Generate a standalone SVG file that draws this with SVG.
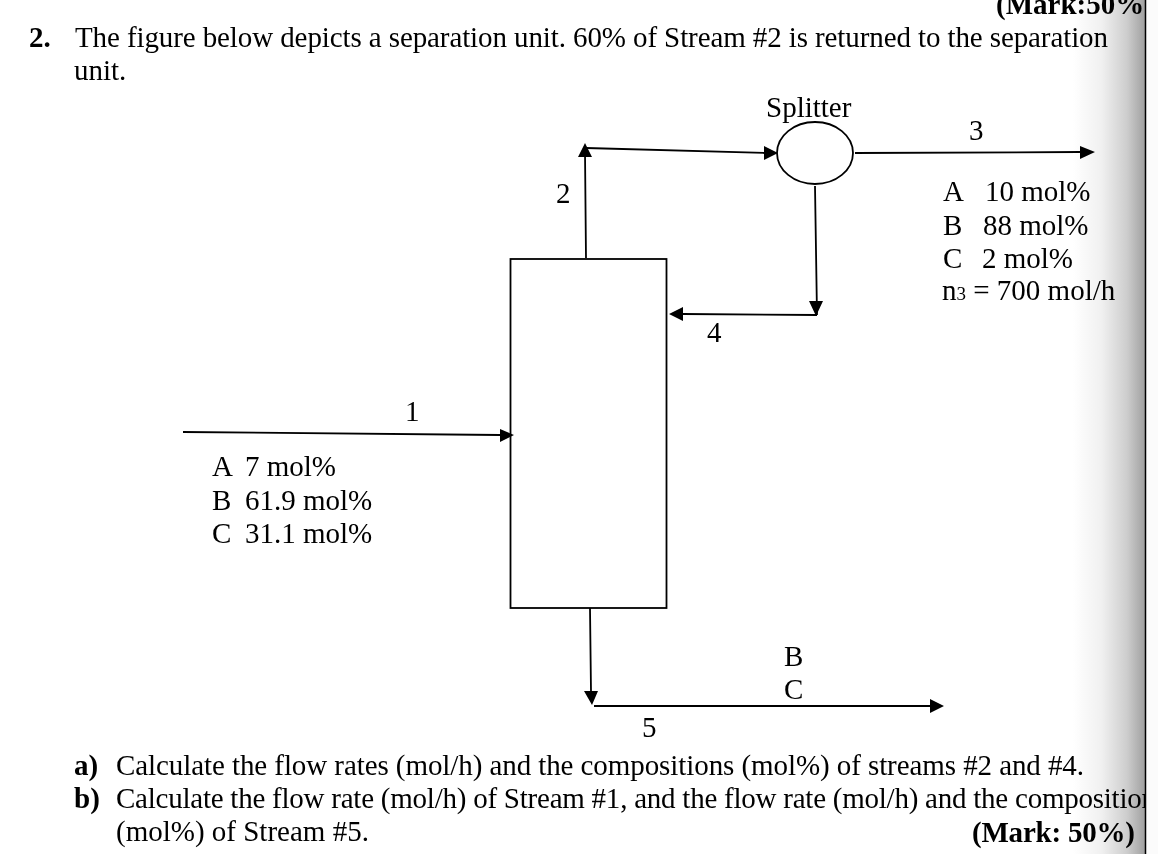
<svg xmlns="http://www.w3.org/2000/svg" width="1158" height="854" viewBox="0 0 1158 854">
<style>
text{font-family:"Liberation Serif","Times New Roman",serif;font-size:29px;fill:#000}
.b{font-weight:bold}
.l{fill:none;stroke:#000;stroke-width:1.800}
.h{fill:#000;stroke:none}
</style>
<defs>
<linearGradient id="sh" x1="0" x2="1" y1="0" y2="0"><stop offset="0" stop-color="#fff"/><stop offset=".4" stop-color="#f0f0f0"/><stop offset=".75" stop-color="#cdcdcd"/><stop offset="1" stop-color="#a0a0a0"/></linearGradient>
</defs>
<rect width="1158" height="854" fill="#fff"/>
<g id="question">
<text class="b" x="996" y="14">(Mark:50%)</text>
<text class="b" x="29" y="47">2.</text>
<text x="75" y="47" textLength="1033" lengthAdjust="spacing">The figure below depicts a separation unit. 60% of Stream #2 is returned to the separation</text>
<text x="74" y="80">unit.</text>
</g>
<g id="separator"><rect x="510.500" y="259" width="156" height="349" fill="#fff" stroke="#000" stroke-width="1.800"/></g>
<g id="splitter"><ellipse cx="815" cy="153" rx="38" ry="31" fill="#fff" stroke="#000" stroke-width="1.800"/><text x="766" y="117">Splitter</text></g>
<g id="connectors">
<path class="l" d="M586 258L585 152M586 148L765 153"/>
<path class="h" d="M585 143L578 157L592 157ZM778 153L764 146L764 160Z"/>
<path class="l" d="M855 153L1080 152"/>
<path class="h" d="M1095 152L1080 146L1080 159Z"/>
<path class="l" d="M815 186L817 315M683 314L817 315"/>
<path class="h" d="M816 316L809 301L823 301ZM669 314L683 307L683 321Z"/>
<path class="l" d="M183 432L500 435"/>
<path class="h" d="M514 435L500 429L500 442Z"/>
<path class="l" d="M590 608L591 692M594 706L930 706"/>
<path class="h" d="M592 705L584 691L598 691ZM944 706L930 699L930 713Z"/>
</g>
<g id="labels">
<text x="556" y="203">2</text>
<text x="969" y="140">3</text>
<text x="707" y="342">4</text>
<text x="405" y="421">1</text>
<text x="642" y="737">5</text>
<text x="943" y="201">A</text><text x="985" y="201">10 mol%</text>
<text x="943" y="235">B</text><text x="983" y="235">88 mol%</text>
<text x="943" y="268">C</text><text x="982" y="268">2 mol%</text>
<text x="942" y="300">n<tspan font-size="19">3</tspan> = 700 mol/h</text>
<text x="212" y="476">A</text><text x="245" y="476">7 mol%</text>
<text x="212" y="510">B</text><text x="245" y="510">61.9 mol%</text>
<text x="212" y="543">C</text><text x="245" y="543">31.1 mol%</text>
<text x="784" y="666">B</text>
<text x="784" y="699">C</text>
</g>
<g id="parts">
<text class="b" x="74" y="775">a)</text>
<text x="116" y="775" textLength="968" lengthAdjust="spacing">Calculate the flow rates (mol/h) and the compositions (mol%) of streams #2 and #4.</text>
<text class="b" x="74" y="808">b)</text>
<text x="116" y="808" textLength="1040" lengthAdjust="spacing">Calculate the flow rate (mol/h) of Stream #1, and the flow rate (mol/h) and the composition</text>
<text x="116" y="841">(mol%) of Stream #5.</text>
<text class="b" x="972" y="842" textLength="163" lengthAdjust="spacing">(Mark: 50%)</text>
</g>
<rect x="1073" y="0" width="72" height="854" fill="url(#sh)" style="mix-blend-mode:multiply"/>
<rect x="1145" y="0" width="13" height="854" fill="#fbfbfb"/>
<path d="M1145.500 0V854" stroke="#000" stroke-width="1.500"/>
</svg>
